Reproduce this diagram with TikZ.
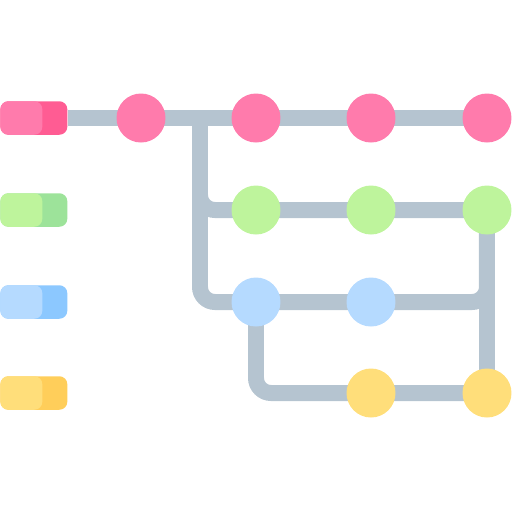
\documentclass[tikz,border=0pt]{standalone}
\usepackage{xcolor}
\usepackage{tikz}
\usetikzlibrary{backgrounds}

\definecolor{pinkLight}{HTML}{FF7BAC}
\definecolor{pinkDark}{HTML}{FF5C93}
\definecolor{greenLight}{HTML}{BEF49C}
\definecolor{greenDark}{HTML}{9DE39A}
\definecolor{blueLight}{HTML}{B5DAFF}
\definecolor{blueDark}{HTML}{8CC8FF}
\definecolor{yellowLight}{HTML}{FFDE7A}
\definecolor{yellowDark}{HTML}{FFCE5A}
\definecolor{lineGray}{HTML}{B5C4D0}

\begin{document}
\begin{tikzpicture}[
    x=0.02cm, y=-0.02cm,
    commit/.style={circle, minimum size=0.98cm, inner sep=0pt},
    tag/.style={rectangle, rounded corners=0.16cm, minimum width=1.34cm, minimum height=0.67cm, inner sep=0pt, anchor=west},
    tagcap/.style={tag, minimum width=0.84cm},
    branch/.style={draw=lineGray, line width=0.32cm, rounded corners=0.3cm},
]
\useasboundingbox (0,0) rectangle (512,512);

% Legend tags
\node[tag, fill=pinkDark] (tag1) at (0,118) {};
\node[tagcap, fill=pinkLight] at (0,118) {};
\node[tag, fill=greenDark] (tag2) at (0,210) {};
\node[tagcap, fill=greenLight] at (0,210) {};
\node[tag, fill=blueDark] (tag3) at (0,302) {};
\node[tagcap, fill=blueLight] at (0,302) {};
\node[tag, fill=yellowDark] (tag4) at (0,393) {};
\node[tagcap, fill=yellowLight] at (0,393) {};

% Main branch
\node[commit, fill=pinkLight] (m1) at (141,118) {};
\node[commit, fill=pinkLight] (m2) at (256,118) {};
\node[commit, fill=pinkLight] (m3) at (371,118) {};
\node[commit, fill=pinkLight] (m4) at (487,118) {};
\coordinate (fork) at (200,118);

% Feature branch
\node[commit, fill=greenLight] (f1) at (256,210) {};
\node[commit, fill=greenLight] (f2) at (371,210) {};
\node[commit, fill=greenLight] (f3) at (487,210) {};

% Bugfix branch
\node[commit, fill=blueLight] (b1) at (256,302) {};
\node[commit, fill=blueLight] (b2) at (371,302) {};

% Release branch
\node[commit, fill=yellowLight] (y1) at (371,393) {};
\node[commit, fill=yellowLight] (y2) at (487,393) {};

% Connectors
\begin{pgfonlayer}{background}
\draw[branch] (tag1.east) -- (m4.center);
\draw[branch] (fork) |- (f1.center) -- (f3.center);
\draw[branch] (fork) |- (b1.center) -- (b2.center) -| (f3.center);
\draw[branch] (b1.center) |- (y1.center) -- (y2.center);
\draw[branch] (f3.center) -- (y2.center);
\end{pgfonlayer}

\end{tikzpicture}
\end{document}
